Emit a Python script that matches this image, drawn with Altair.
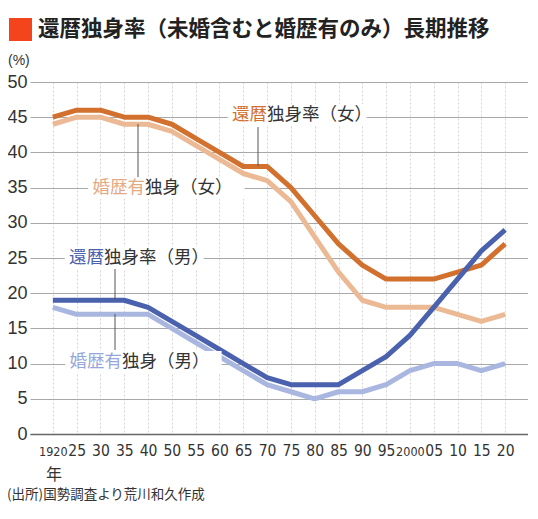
import altair as alt
import pandas as pd

# census years shown on the x axis (no census in 1945)
years = ["1920", "25", "30", "35", "40", "50", "55", "60", "65", "70",
         "75", "80", "85", "90", "95", "2000", "05", "10", "15", "20"]

# percentages
f_kanreki = [45, 46, 46, 45, 45, 44, 42, 40, 38, 38, 35, 31, 27, 24, 22, 22, 22, 23, 24, 27]
f_konreki = [44, 45, 45, 44, 44, 43, 41, 39, 37, 36, 33, 28, 23, 19, 18, 18, 18, 17, 16, 17]
m_kanreki = [19, 19, 19, 19, 18, 16, 14, 12, 10, 8, 7, 7, 7, 9, 11, 14, 18, 22, 26, 29]
m_konreki = [18, 17, 17, 17, 17, 15, 13, 11, 9, 7, 6, 5, 6, 6, 7, 9, 10, 10, 9, 10]

series_names = ["婚歴有独身(女)", "還暦独身率(女)", "婚歴有独身(男)", "還暦独身率(男)"]
series_colors = ["#ECB995", "#D2702E", "#A9B6E0", "#4A62AE"]

rows = []
for name, vals in zip(series_names, [f_konreki, f_kanreki, m_konreki, m_kanreki]):
    for y, v in zip(years, vals):
        rows.append({"year": y, "value": v, "series": name})
df = pd.DataFrame(rows)

JP = "Noto Sans CJK JP"
NUM = "Liberation Sans"
NARROW = "Liberation Sans Narrow, DejaVu Sans Condensed, Liberation Sans"

lines = alt.Chart(df).mark_line(strokeWidth=5, strokeJoin="round").encode(
    x=alt.X("year:O", sort=years,
            scale=alt.Scale(type="point", padding=0.96),
            axis=alt.Axis(title=None, labelAngle=0, ticks=False,
                          domainColor="#666", domainWidth=1.5,
                          labelBaseline="alphabetic", labelPadding=21,
                          labelColor="#333", labelFont=NARROW,
                          labelFontSize={"condition": {"test": "length(datum.label) > 2", "value": 12.5},
                                         "value": 15.5},
                          grid=True, gridDash=[2, 2], gridColor="#d4d4d4")),
    y=alt.Y("value:Q", scale=alt.Scale(domain=[0, 50], nice=False),
            axis=alt.Axis(title=None, values=list(range(0, 51, 5)), domain=False, ticks=False,
                          labelPadding=3, labelFontSize=18, labelFont=NUM, labelColor="#333",
                          gridColor="#a8a8a8", gridWidth=1)),
    color=alt.Color("series:N", sort=series_names,
                    scale=alt.Scale(domain=series_names, range=series_colors), legend=None),
    order=alt.Order("year_idx:Q"),
).transform_calculate(
    year_idx="indexof(" + str(years) + ", datum.year)"
)

one = alt.Data(values=[{}])


def txt(s, x, y, color="#333", size=17.5, align="left", weight="normal", font=JP):
    return alt.Chart(one).mark_text(
        text=s, align=align, baseline="middle", fontSize=size,
        color=color, font=font, fontWeight=weight
    ).encode(x=alt.value(x), y=alt.value(y))


def bg(x1, x2, y1, y2):
    return alt.Chart(one).mark_rect(color="white").encode(
        x=alt.value(x1), x2=alt.value(x2), y=alt.value(y1), y2=alt.value(y2))


def leader(x, y1, y2):
    return alt.Chart(one).mark_rule(color="#555", strokeWidth=1).encode(
        x=alt.value(x), y=alt.value(y1), y2=alt.value(y2))


# (split x, centre y) of each two-colour label, in plot pixels
notes = [
    ("還暦", "独身率（女）", "#D2702E", 237, 33),
    ("婚歴有", "独身（女）", "#E3A983", 115, 106),
    ("還暦", "独身率（男）", "#4A62AE", 74, 176),
    ("婚歴有", "独身（男）", "#96A6DA", 92, 280),
]

layers = [lines]
layers += [leader(228, 45, 84), leader(108, 42, 95),
           leader(85, 187, 218), leader(85, 232, 268)]
for a, b, c, sx, sy in notes:
    w1 = len(a) * 17.6
    layers.append(bg(sx - w1 - 4, sx + 6 * 17.6 - 6, sy - 11, sy + 11))
    layers.append(txt(a, sx, sy, color=c, align="right"))
    layers.append(txt(b, sx, sy, align="left"))

# title block, units, source
layers.append(alt.Chart(one).mark_rect(color="#F4441C").encode(
    x=alt.value(-21), x2=alt.value(2), y=alt.value(-64), y2=alt.value(-41)))
layers.append(txt("還暦独身率（未婚含むと婚歴有のみ）長期推移", 8, -52, color="#222",
                  size=21.5, weight="bold"))
layers.append(txt("(%)", -22, -21, size=14, font=NUM))
layers.append(txt("年", 24, 393, size=16, align="center"))
layers.append(txt("(出所)国勢調査より荒川和久作成", -23, 413, size=13.5))

chart = alt.layer(*layers).properties(
    width=498, height=352,
    autosize=alt.AutoSizeParams(type="none"),
    padding={"left": 22, "top": 74, "right": 0, "bottom": 70},
).configure_view(stroke=None)

chart.save("out.html", embed_options={"renderer": "svg", "actions": False})
